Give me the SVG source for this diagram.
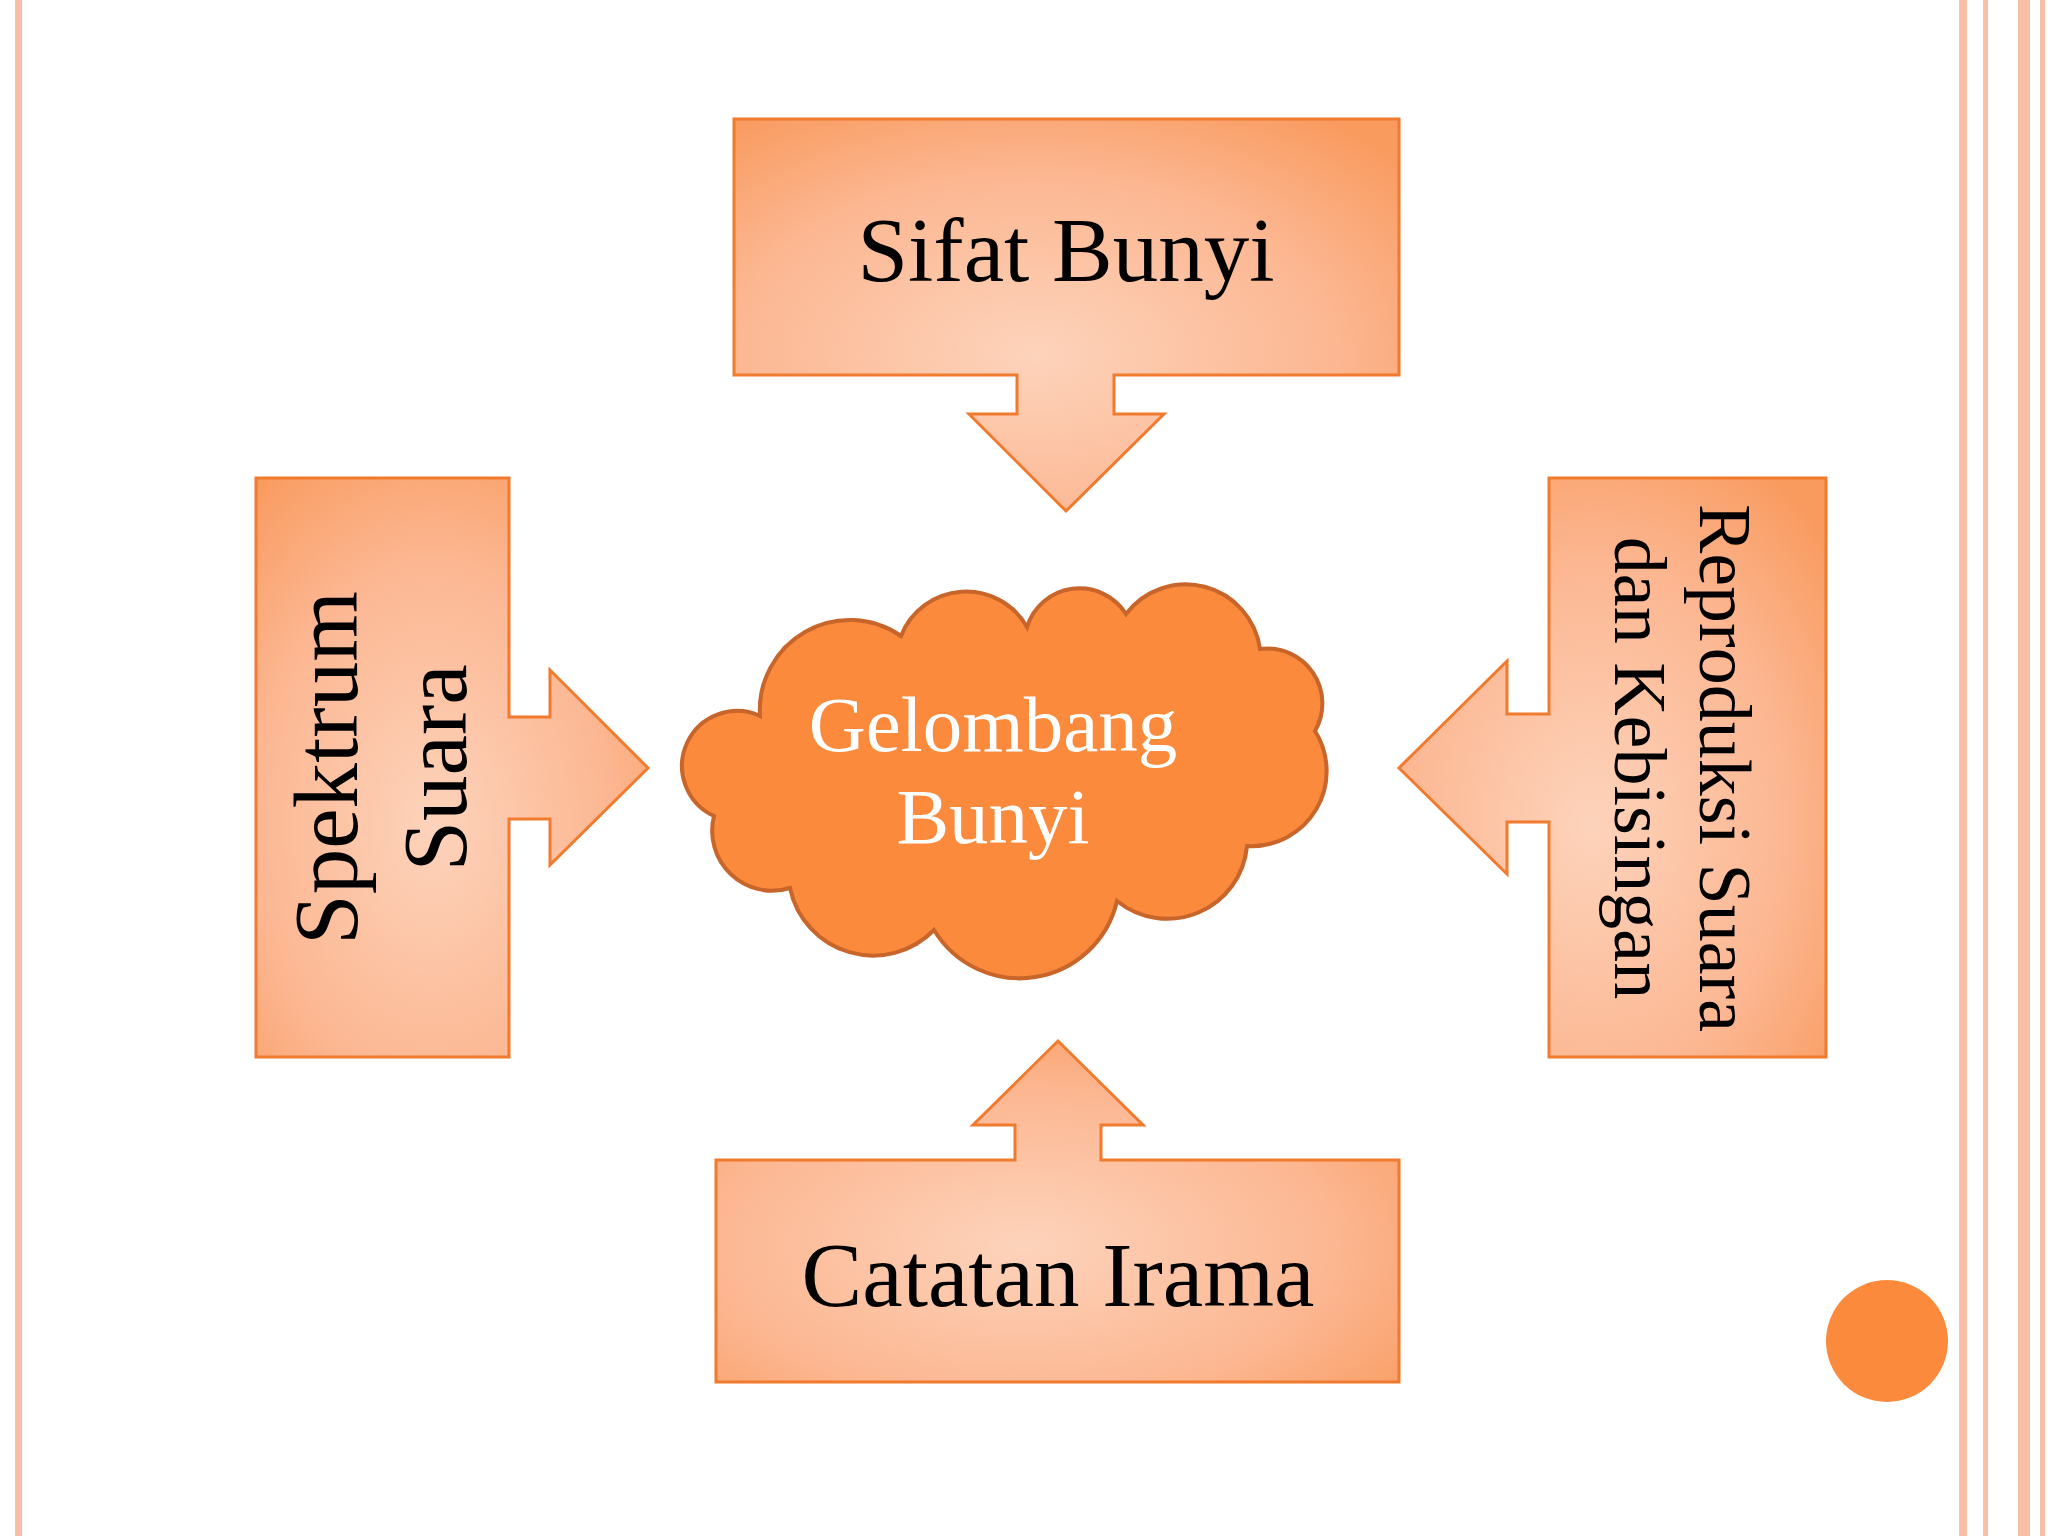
<svg xmlns="http://www.w3.org/2000/svg" width="2048" height="1536" viewBox="0 0 2048 1536">
<defs>
<radialGradient id="g" cx="0.45" cy="0.6" r="0.75">
<stop offset="0" stop-color="#fdd3bb"/><stop offset="0.6" stop-color="#fcb792"/><stop offset="1" stop-color="#f99a5e"/>
</radialGradient>
<style>
.call{fill:url(#g);stroke:#f07a2e;stroke-width:3}
.t{font-family:"Liberation Serif",serif;font-size:91px;fill:#000;text-anchor:middle}
.r{font-size:74px}
.w{font-family:"Liberation Serif",serif;font-size:79px;fill:#fff;text-anchor:middle}
.b{fill:#f9bfa6}
</style>
</defs>
<rect width="2048" height="1536" fill="#fff"/>
<rect class="b" x="15" y="0" width="7" height="1536"/>
<rect class="b" x="1959" y="0" width="8" height="1536"/>
<rect class="b" x="1983" y="0" width="5" height="1536"/>
<rect class="b" x="2018" y="0" width="12" height="1536"/>
<rect class="b" x="2040" y="0" width="5" height="1536"/>
<g id="top"><path class="call" d="M734,119H1399V375H1114V414H1164L1066,511L969,414H1017V375H734Z"/>
<text class="t" x="1066" y="281">Sifat Bunyi</text></g>
<g id="left"><path class="call" d="M256,478H509V717H550V670L648,768L550,865V819H509V1057H256Z"/>
<text class="t" transform="translate(357,768) rotate(-90)">Spektrum</text>
<text class="t" transform="translate(466,768) rotate(-90)">Suara</text></g>
<g id="right"><path class="call" d="M1549,478H1826V1057H1549V822H1507V874L1399,768L1507,661V714H1549Z"/>
<text class="t r" transform="translate(1700,768) rotate(90)">Reproduksi Suara</text>
<text class="t r" transform="translate(1615,768) rotate(90)">dan Kebisingan</text></g>
<g id="bottom"><path class="call" d="M716,1160H1015V1125H973L1058,1041L1143,1125H1101V1160H1399V1382H716Z"/>
<text class="t" x="1058" y="1306">Catatan Irama</text></g>
<g id="cloud"><path d="M760,716A90,90 0 0 1 901,636A70,70 0 0 1 1027,627A55,55 0 0 1 1126,614A75,75 0 0 1 1260,649A55,55 0 0 1 1315,731A75,75 0 0 1 1247,846A80,80 0 0 1 1117,901A100,100 0 0 1 934,930A85,85 0 0 1 790,888A60,60 0 0 1 714,816A50,50 0 0 1 760,716Z" fill="#fb8a3c" stroke="#c8652a" stroke-width="4"/>
<text class="w" x="993" y="751">Gelombang</text>
<text class="w" x="993" y="843">Bunyi</text></g>
<circle cx="1887" cy="1341" r="61" fill="#fb8a3c"/>
<g id="connectors"/>
</svg>
